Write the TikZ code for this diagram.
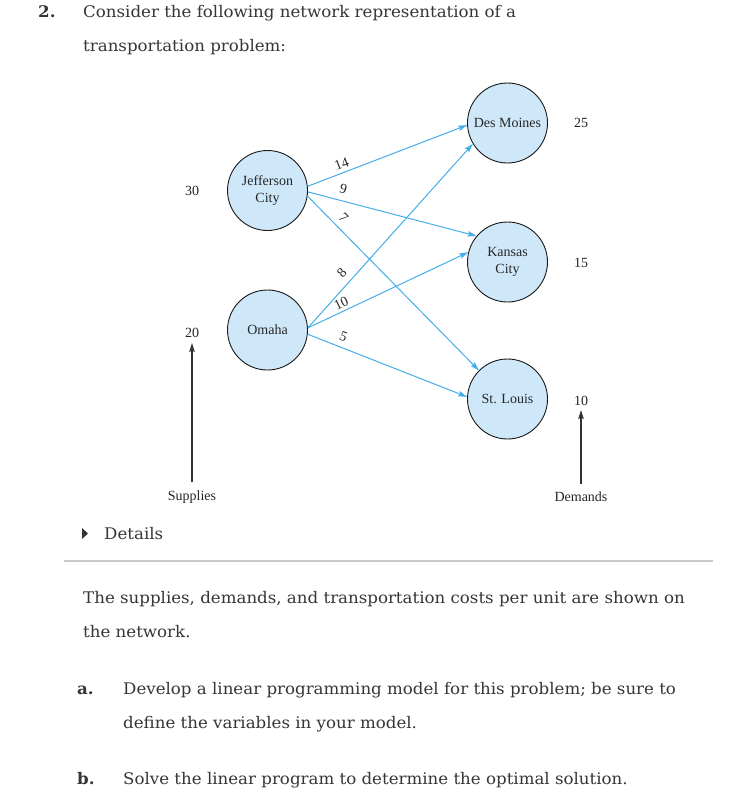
\documentclass[tikz,border=0pt]{standalone}
\usepackage{fontspec}
\usetikzlibrary{arrows.meta}
\newfontfamily\txtfont[FakeStretch=1.04]{DejaVu Serif}
\newfontfamily\dgmfont{Liberation Serif}
\definecolor{txtgray}{HTML}{363636}
\definecolor{routeblue}{HTML}{45AEEA}
\definecolor{cityfill}{HTML}{CFE8F9}
\definecolor{rulegray}{HTML}{C8C8C8}
\tikzset{
  body/.style={anchor=base west, inner sep=0pt, text=txtgray, font=\txtfont\fontsize{16}{20}\selectfont},
  bodybold/.style={body, font=\txtfont\bfseries\fontsize{16}{20}\selectfont},
  city/.style={circle, draw=black!90, line width=0.9pt, fill=cityfill, minimum size=80pt, inner sep=0pt, align=center, text=black!85, font=\dgmfont\fontsize{14}{16.7}\selectfont},
  qty/.style={inner sep=0pt, text=black!85, font=\dgmfont\fontsize{14}{16}\selectfont},
  route/.style={draw=routeblue, line width=1pt, -{Stealth[length=9pt,width=5.5pt,inset=1.5pt]}},
  cost/.style={sloped, inner sep=0pt, text=black!85, font=\dgmfont\fontsize{14}{16}\selectfont},
  flowarrow/.style={draw=black!80, line width=1.3pt, -{Stealth[length=9pt,width=5.5pt,inset=1.5pt]}}
}
\begin{document}
\begin{tikzpicture}[x=1pt,y=-1pt]
\useasboundingbox[fill=white] (0,0) rectangle (730,806);

% header
\node[bodybold] (num) at (38,17.3) {2.};
\node[body] (h1) at (83,17.3) {Consider the following network representation of a};
\node[body] (h2) at (83,51.7) {transportation problem:};

% cities
\node[city] (J) at (267.5,190.5) {Jefferson\\City};
\node[city] (O) at (267.5,330) {Omaha};
\node[city] (D) at (507.5,123) {Des Moines};
\node[city] (K) at (507.5,262) {Kansas\\City};
\node[city] (S) at (507.5,399) {St. Louis};

% quantities
\node[qty] (q30) at (192,190.5) {30};
\node[qty] (q20) at (192,333) {20};
\node[qty] (q25) at (581,123) {25};
\node[qty] (q15) at (581,263) {15};
\node[qty] (q10) at (581,400.5) {10};
\node[qty] (sup) at (192,497) {Supplies};
\node[qty] (dem) at (581,497) {Demands};
\draw[flowarrow] (sup.north) ++(0,-8) coordinate (supbase) -- (q20.south |- 0,343) coordinate (suptip);
\draw[flowarrow] (dem.north) ++(0,-8) coordinate (dembase) -- (q10.south |- 0,410) coordinate (demtip);

% routes
\draw[route] (J.6) -- node[cost, pos=0.232, above=3.5pt] {14} (D.183);
\draw[route] (J.358) -- node[cost, pos=0.193, above=6.4pt] {9} (K.140);
\draw[route] (J.352) -- node[cost, pos=0.166, above=5.6pt] {7} (S.135);
\draw[route] (O.3) -- node[cost, pos=0.258, above=6.4pt] {8} (D.211);
\draw[route] (O.3) -- node[cost, pos=0.23, above=3pt] {10} (K.166);
\draw[route] (O.354) -- node[cost, pos=0.2, above=5.7pt] {5} (S.177);

% details
\fill[txtgray] (82,528) -- (82,539) -- (88,533.5) -- cycle;
\node[body] (det) at (104,539) {Details};
\draw[rulegray, line width=2pt] (64,560.5) -- (713,560.5);

% body text
\node[body] (p1) at (83,603.3) {The supplies, demands, and transportation costs per unit are shown on};
\node[body] (p2) at (83,637.7) {the network.};
\node[bodybold] (la) at (77,694) {a.};
\node[body] (a1) at (123,694) {Develop a linear programming model for this problem; be sure to};
\node[body] (a2) at (123,728.4) {define the variables in your model.};
\node[bodybold] (lb) at (77,784) {b.};
\node[body] (b1) at (123,784) {Solve the linear program to determine the optimal solution.};
\end{tikzpicture}
\end{document}
